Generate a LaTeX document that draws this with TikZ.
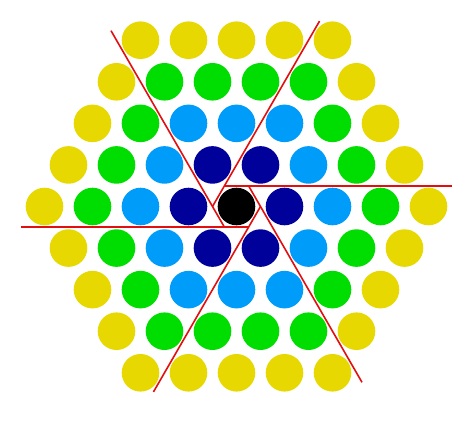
\documentclass[tikz,border=0pt]{standalone}
\definecolor{dotyellow}{RGB}{230,216,0}
\definecolor{dotgreen}{RGB}{0,221,0}
\definecolor{dotsky}{RGB}{0,156,250}
\definecolor{dotnavy}{RGB}{0,0,155}
\definecolor{cutred}{RGB}{225,15,15}
\begin{document}
\begin{tikzpicture}[x=24pt,y=41.57pt,
	ringfour/.style={fill=dotyellow},
	ringthree/.style={fill=dotgreen},
	ringtwo/.style={fill=dotsky},
	ringone/.style={fill=dotnavy},
	hub/.style={fill=black},
	cutline/.style={draw=cutred,line width=1.6pt}]
	\useasboundingbox (-236.5pt,-222.5pt) rectangle (237.5pt,206.5pt);
	% outer ring
	\fill[ringfour] (-4,4) circle (18.8pt) (-2,4) circle (18.8pt) (0,4) circle (18.8pt) (2,4) circle (18.8pt) (4,4) circle (18.8pt);
	\fill[ringfour] (-5,3) circle (18.8pt) (5,3) circle (18.8pt) (-6,2) circle (18.8pt) (6,2) circle (18.8pt);
	\fill[ringfour] (-7,1) circle (18.8pt) (7,1) circle (18.8pt) (-8,0) circle (18.8pt) (8,0) circle (18.8pt);
	\fill[ringfour] (-7,-1) circle (18.8pt) (7,-1) circle (18.8pt) (-6,-2) circle (18.8pt) (6,-2) circle (18.8pt);
	\fill[ringfour] (-5,-3) circle (18.8pt) (5,-3) circle (18.8pt);
	\fill[ringfour] (-4,-4) circle (18.8pt) (-2,-4) circle (18.8pt) (0,-4) circle (18.8pt) (2,-4) circle (18.8pt) (4,-4) circle (18.8pt);
	% green ring
	\fill[ringthree] (-3,3) circle (18.8pt) (-1,3) circle (18.8pt) (1,3) circle (18.8pt) (3,3) circle (18.8pt);
	\fill[ringthree] (-4,2) circle (18.8pt) (4,2) circle (18.8pt) (-5,1) circle (18.8pt) (5,1) circle (18.8pt);
	\fill[ringthree] (-6,0) circle (18.8pt) (6,0) circle (18.8pt);
	\fill[ringthree] (-5,-1) circle (18.8pt) (5,-1) circle (18.8pt) (-4,-2) circle (18.8pt) (4,-2) circle (18.8pt);
	\fill[ringthree] (-3,-3) circle (18.8pt) (-1,-3) circle (18.8pt) (1,-3) circle (18.8pt) (3,-3) circle (18.8pt);
	% light blue ring
	\fill[ringtwo] (-2,2) circle (18.8pt) (0,2) circle (18.8pt) (2,2) circle (18.8pt);
	\fill[ringtwo] (-3,1) circle (18.8pt) (3,1) circle (18.8pt) (-4,0) circle (18.8pt) (4,0) circle (18.8pt);
	\fill[ringtwo] (-3,-1) circle (18.8pt) (3,-1) circle (18.8pt);
	\fill[ringtwo] (-2,-2) circle (18.8pt) (0,-2) circle (18.8pt) (2,-2) circle (18.8pt);
	% inner ring and hub
	\fill[ringone] (-1,1) circle (18.8pt) (1,1) circle (18.8pt) (-2,0) circle (18.8pt);
	\fill[ringone] (2,0) circle (18.8pt) (-1,-1) circle (18.8pt) (1,-1) circle (18.8pt);
	\fill[hub] (0,0) circle (18.8pt);
	% pinwheel cuts
	\draw[cutline] (-0.5,0.5) -- (8.96,0.5);
	\draw[cutline] (-1,0) -- (3.46,4.46);
	\draw[cutline] (-0.5,-0.5) -- (-5.23,4.23);
	\draw[cutline] (0.5,-0.5) -- (-8.96,-0.5);
	\draw[cutline] (1,0) -- (-3.46,-4.46);
	\draw[cutline] (0.5,0.5) -- (5.23,-4.23);
\end{tikzpicture}
\end{document}
